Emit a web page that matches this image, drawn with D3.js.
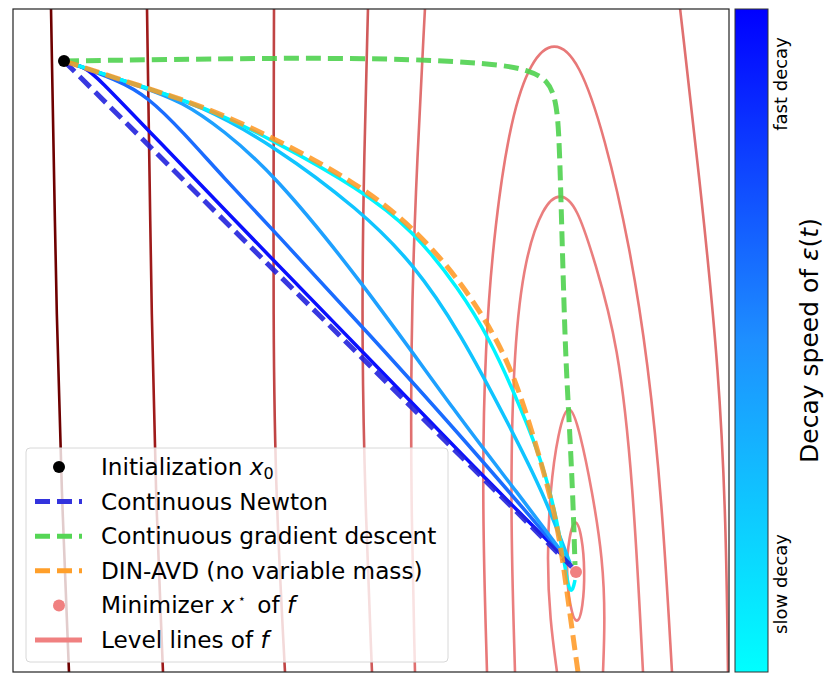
<!DOCTYPE html>
<html>
<head>
<meta charset="utf-8">
<script src="https://cdn.jsdelivr.net/npm/d3@7"></script>
<style>
  body { margin: 0; background: white; }
  text { font-family: "DejaVu Sans", sans-serif; }
</style>
</head>
<body>
<div id="chart"></div>
<script>
// Chart data (x, y in plot units)
var x0 = [0.51, 6.11];
var xStar = [5.63, 1.00];

var newtonPath = [[0.51,6.11],[3.05,3.58],[5.59,1.05]];
var gradientPath = [[0.51,6.11],[1.87,6.13],[2.87,6.14],[4.02,6.13],[4.85,6.08],[5.15,6.02],[5.35,5.92],[5.43,5.72],[5.46,5.40],[5.48,4.72],[5.52,3.29],[5.55,2.72],[5.59,1.95],[5.61,1.41],[5.62,1.07]];
var dinPath = [[0.51,6.11],[1.27,5.86],[1.87,5.67],[2.60,5.35],[3.47,4.87],[4.00,4.45],[4.47,3.92],[4.87,3.29],[5.10,2.72],[5.37,1.79],[5.47,1.32],[5.55,0.72],[5.65,0.00]];

// trajectories for different decay speeds of epsilon(t), fast -> slow
var decayColors = ["#0a10ff", "#1a6cff", "#1ea0ff", "#10c4ff", "#00f4ff"];
var decayPaths = [
  [[0.51,6.11],[0.72,6.05],[0.85,5.94],[1.37,5.40],[2.60,4.12],[3.47,3.23],[4.47,2.19],[5.57,1.09]],
  [[0.51,6.11],[1.05,5.92],[1.35,5.75],[1.70,5.40],[2.10,4.95],[2.60,4.42],[3.57,3.37],[4.57,2.26],[5.57,1.09]],
  [[0.51,6.11],[1.27,5.86],[1.70,5.70],[2.10,5.42],[2.60,4.99],[3.47,3.93],[4.47,2.53],[5.04,1.80],[5.57,1.09]],
  [[0.51,6.11],[1.27,5.86],[1.87,5.67],[2.60,5.27],[3.47,4.62],[4.00,4.09],[4.47,3.40],[4.97,2.45],[5.30,1.80],[5.57,1.09]],
  [[0.51,6.11],[1.27,5.86],[1.87,5.67],[2.60,5.32],[3.47,4.83],[4.00,4.42],[4.47,3.82],[4.77,3.32],[5.00,2.82],[5.27,2.17],[5.42,1.62],[5.51,1.12],[5.56,0.80],[5.60,0.82],[5.62,0.92]]
];

// level lines of f
var levelColors = ["#ec8080", "#ec8080", "#ea7e7e", "#e87878", "#e07070", "#d05a5a", "#c04444", "#9e1a1a", "#6e0000"];
var levelLines = [
  { level: 0, closed: true, pts: [[5.625,1.56],[5.69,1.36],[5.72,1.01],[5.70,0.64],[5.64,0.45],[5.57,0.64],[5.53,1.01],[5.56,1.36]] },
  { level: 1, pts: [[5.44,0.00],[5.37,0.52],[5.34,1.12],[5.37,1.82],[5.45,2.40],[5.56,2.74],[5.67,2.40],[5.79,1.82],[5.90,1.12],[5.92,0.52],[5.90,0.00]] },
  { level: 2, pts: [[5.02,0.00],[4.97,1.72],[5.01,3.28],[5.12,4.15],[5.30,4.66],[5.47,4.80],[5.64,4.66],[5.82,4.10],[6.05,3.29],[6.20,1.92],[6.30,0.00]] },
  { level: 3, pts: [[4.74,0.00],[4.69,1.72],[4.72,3.29],[4.82,4.50],[4.98,5.55],[5.18,6.12],[5.41,6.32],[5.66,6.12],[5.92,5.35],[6.17,4.25],[6.35,3.10],[6.49,1.72],[6.59,0.00]] },
  { level: 4, pts: [[4.12,6.64],[4.02,4.72],[3.98,3.28],[3.98,1.72],[4.02,0.00]] },
  { level: 4, pts: [[6.67,6.64],[6.89,4.72],[7.06,3.00],[7.13,1.50],[7.15,0.00]] },
  { level: 5, pts: [[3.55,6.64],[3.50,4.72],[3.49,3.28],[3.52,1.72],[3.59,0.00]] },
  { level: 6, pts: [[2.61,6.64],[2.60,3.28],[2.63,1.72],[2.72,0.00]] },
  { level: 7, pts: [[1.34,6.64],[1.39,3.28],[1.43,1.72],[1.50,0.00]] },
  { level: 8, pts: [[0.38,6.64],[0.44,3.28],[0.49,1.72],[0.56,0.00]] }
];

var colorbarStops = ["#0000ff", "#1e8fff", "#00ffff"];
var colorbarTicks = ["fast decay", "slow decay"];

var svgWidth = 830, svgHeight = 688;
var plot = { left: 13, top: 9, right: 729, bottom: 672 };

var svg = d3.select("#chart").append("svg")
  .attr("width", svgWidth).attr("height", svgHeight);

var xScale = d3.scaleLinear().domain([0, 7.16]).range([plot.left, plot.right]);
var yScale = d3.scaleLinear().domain([0, 6.63]).range([plot.bottom, plot.top]);

svg.append("clipPath").attr("id", "clip").append("rect")
  .attr("x", plot.left).attr("y", plot.top)
  .attr("width", plot.right - plot.left).attr("height", plot.bottom - plot.top);

var g = svg.append("g").attr("clip-path", "url(#clip)");

var line = d3.line().x(d => xScale(d[0])).y(d => yScale(d[1])).curve(d3.curveBasis);
var closedLine = d3.line().x(d => xScale(d[0])).y(d => yScale(d[1])).curve(d3.curveBasisClosed);

// level lines
g.selectAll(".level").data(levelLines).enter().append("path")
  .attr("d", d => d.closed ? closedLine(d.pts) : line(d.pts))
  .attr("fill", "none")
  .attr("stroke", d => levelColors[d.level])
  .attr("stroke-width", 2.6);

// decay trajectories
g.selectAll(".decay").data(decayPaths).enter().append("path")
  .attr("d", d => line(d))
  .attr("fill", "none")
  .attr("stroke", (d, i) => decayColors[i])
  .attr("stroke-width", 3.5);

// dashed reference trajectories
function dashed(pts, color, opacity) {
  g.append("path").attr("d", line(pts))
    .attr("fill", "none").attr("stroke", color)
    .attr("stroke-width", 5).attr("stroke-dasharray", "15,7")
    .attr("opacity", opacity);
}
dashed(newtonPath, "#2222dd", 0.9);
dashed(gradientPath, "#4fd24f", 0.9);
dashed(dinPath, "#ff9620", 0.85);

g.append("circle").attr("cx", xScale(xStar[0])).attr("cy", yScale(xStar[1]))
  .attr("r", 6).attr("fill", "#f08080");
g.append("circle").attr("cx", xScale(x0[0])).attr("cy", yScale(x0[1]))
  .attr("r", 6).attr("fill", "black");

// frame
svg.append("rect")
  .attr("x", plot.left).attr("y", plot.top)
  .attr("width", plot.right - plot.left).attr("height", plot.bottom - plot.top)
  .attr("fill", "none").attr("stroke", "#222").attr("stroke-width", 1.2);

// legend
var legend = svg.append("g").attr("transform", "translate(26,448)");
legend.append("rect").attr("width", 422).attr("height", 214).attr("rx", 4)
  .attr("fill", "white").attr("fill-opacity", 0.8)
  .attr("stroke", "#d8d8d8").attr("stroke-width", 1);

var legendItems = [
  { type: "dot", color: "black", parts: [["Initialization ", ""], ["x", "i"], ["0", "sub"]] },
  { type: "dash", color: "#3333dd", parts: [["Continuous Newton", ""]] },
  { type: "dash", color: "#55d655", parts: [["Continuous gradient descent", ""]] },
  { type: "dash", color: "#ff9f2a", parts: [["DIN-AVD (no variable mass)", ""]] },
  { type: "dot", color: "#f08080", parts: [["Minimizer ", ""], ["x", "i"], ["\u22C6", "sup"], [" of ", ""], ["f", "i"]] },
  { type: "line", color: "#f08080", parts: [["Level lines of ", ""], ["f", "i"]] }
];

legendItems.forEach(function(item, i) {
  var cy = 19 + i * 34.6;
  var row = legend.append("g").attr("transform", `translate(0,${cy})`);
  if (item.type === "dot") {
    row.append("circle").attr("cx", 33).attr("cy", 0).attr("r", 6).attr("fill", item.color);
  } else if (item.type === "dash") {
    row.append("line").attr("x1", 9).attr("x2", 56).attr("y1", 0).attr("y2", 0)
      .attr("stroke", item.color).attr("stroke-width", 5).attr("stroke-dasharray", "15,7");
  } else {
    row.append("line").attr("x1", 9).attr("x2", 56).attr("y1", 0).attr("y2", 0)
      .attr("stroke", item.color).attr("stroke-width", 5);
  }
  var t = row.append("text").attr("x", 75).attr("y", 8).attr("font-size", 23.2).attr("fill", "black");
  item.parts.forEach(function(p) {
    var ts = t.append("tspan").text(p[0]);
    if (p[1] === "i") ts.attr("font-style", "italic");
    if (p[1] === "sub") ts.attr("font-size", 16).attr("dy", 4);
    if (p[1] === "sup") ts.attr("font-size", 13).attr("dy", -10).attr("dx", 3);
    if (p[0] === " of " && item.parts[1][0] === "x") ts.attr("dy", 10).attr("dx", 4);
  });
});

// colorbar
var cb = { x: 735, y: 9, w: 33, h: 663 };
var grad = svg.append("defs").append("linearGradient").attr("id", "cbgrad")
  .attr("x1", 0).attr("y1", 0).attr("x2", 0).attr("y2", 1);
colorbarStops.forEach(function(c, i) {
  grad.append("stop").attr("offset", i / (colorbarStops.length - 1)).attr("stop-color", c);
});
svg.append("rect").attr("x", cb.x).attr("y", cb.y).attr("width", cb.w).attr("height", cb.h)
  .attr("fill", "url(#cbgrad)").attr("stroke", "#333").attr("stroke-width", 1);

var cbScale = d3.scalePoint().domain(colorbarTicks).range([cb.y + 75, cb.y + 575]);
colorbarTicks.forEach(function(tk) {
  svg.append("text")
    .attr("transform", `translate(${cb.x + cb.w + 19},${cbScale(tk)}) rotate(-90)`)
    .attr("text-anchor", "middle").attr("font-size", 18).text(tk);
});

var lab = svg.append("text")
  .attr("transform", `translate(818,${cb.y + cb.h / 2}) rotate(-90)`)
  .attr("text-anchor", "middle").attr("font-size", 25);
lab.append("tspan").text("Decay speed of ");
lab.append("tspan").attr("font-style", "italic").text("\u03B5");
lab.append("tspan").text("(");
lab.append("tspan").attr("font-style", "italic").text("t");
lab.append("tspan").text(")");
</script>
</body>
</html>
